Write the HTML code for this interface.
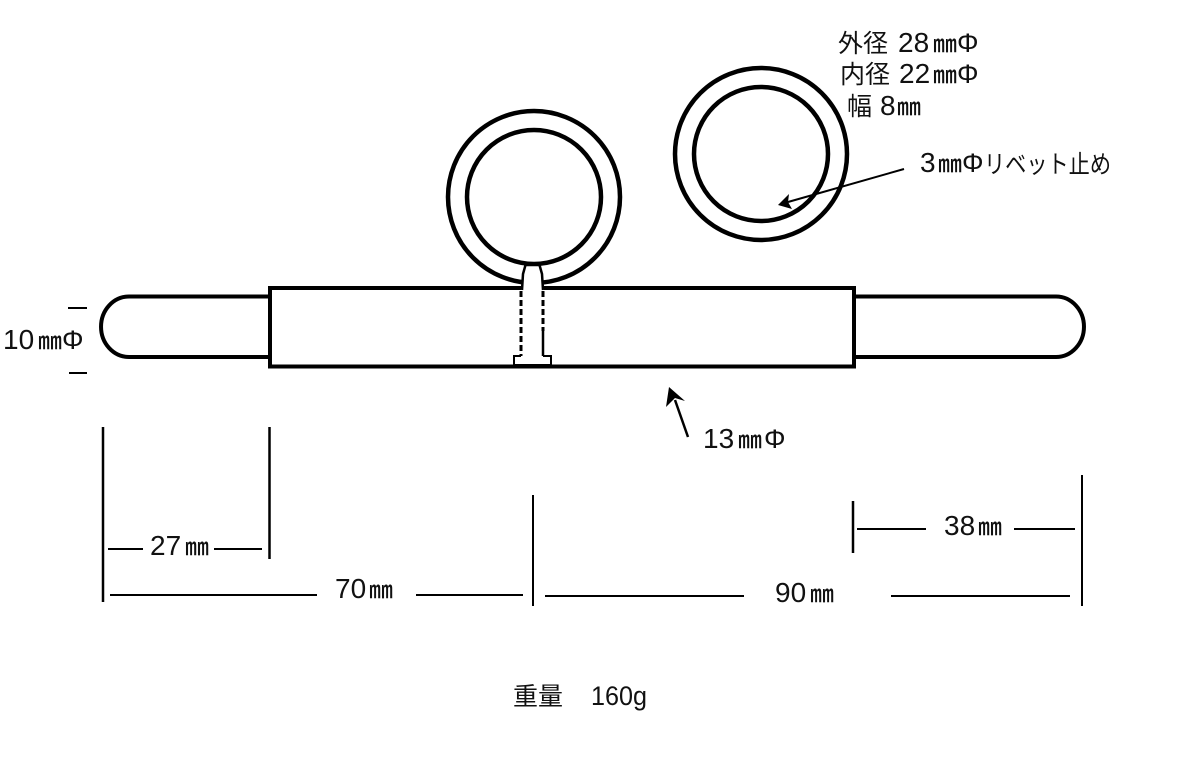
<!DOCTYPE html>
<html lang="ja">
<head>
<meta charset="utf-8">
<style>
html,body{margin:0;padding:0;background:#fff;width:1200px;height:767px;overflow:hidden}
svg{display:block}
text{font-family:"Liberation Sans","Noto Sans CJK JP",sans-serif;fill:#111;font-size:28px}
.c{font-family:"Noto Sans CJK JP",sans-serif;font-size:25px}
.m{font-family:"Noto Sans CJK JP",sans-serif;font-size:24px;font-weight:500}
.p{font-size:27px}
</style>
</head>
<body>
<svg width="1200" height="767" viewBox="0 0 1200 767" xmlns="http://www.w3.org/2000/svg">
<rect width="1200" height="767" fill="#fff"/>
<g fill="none" stroke="#000" stroke-width="4.500">
  <circle cx="534" cy="197" r="86"/>
  <circle cx="534" cy="197" r="67"/>
  <circle cx="761" cy="154" r="86"/>
  <circle cx="761" cy="154" r="67"/>
</g>
<g fill="none" stroke="#000" stroke-width="4">
  <path d="M270 296.500H129A28 30.250 0 0 0 129 357H270"/>
  <path d="M854 296.500H1056A28 30.250 0 0 1 1056 357H854"/>
  <rect x="270" y="288" width="584" height="78.500" fill="#fff"/>
</g>
<path d="M525 265H540L544 288V354H552V365H514V354H521V288Z" fill="#fff"/>
<g fill="none" stroke="#000" stroke-width="2.500">
  <path d="M522 290L523 274L525.500 265H539.500L542 274L543 290"/>
  <path d="M521 291V356" stroke-width="3" stroke-dasharray="6 3"/>
  <path d="M543 291V331" stroke-width="3" stroke-dasharray="6 3"/>
  <path d="M543 331V356"/>
  <path d="M521 356H514V365H551V356H543" stroke-width="2"/>
</g>
<g fill="none" stroke="#000" stroke-width="2">
  <path d="M68 308H87M69 373H87"/>
  <path d="M904 169L788 202"/>
  <path d="M688 437L675 400" stroke-width="2.500"/>
  <path d="M103 427V602M269.500 427V559" stroke-width="2.500"/>
  <path d="M108 549H143M214 549H262"/>
  <path d="M110 595H317M416 595H523"/>
  <path d="M533 495V606"/>
  <path d="M545 596H744M891 596H1070"/>
  <path d="M853 501V553" stroke-width="2.500"/>
  <path d="M1082 475V606"/>
  <path d="M857 529H926M1014 529H1075"/>
</g>
<path d="M778 205L789 194L788 202L792 209Z" fill="#000"/>
<path d="M669 387L685 401L675 398L666 407Z" fill="#000"/>

<text y="52"><tspan x="838" class="c">外径</tspan><tspan x="898">28</tspan><tspan x="933" class="m">㎜</tspan><tspan x="957" class="p">Φ</tspan></text>
<text y="83"><tspan x="840" class="c">内径</tspan><tspan x="899">22</tspan><tspan x="933" class="m">㎜</tspan><tspan x="957" class="p">Φ</tspan></text>
<text y="115"><tspan x="847" class="c">幅</tspan><tspan x="880">8</tspan><tspan x="897" class="m">㎜</tspan></text>
<text y="172"><tspan x="920">3</tspan><tspan x="938" class="m">㎜</tspan><tspan x="962" class="p">Φ</tspan></text>
<text x="984" y="173" textLength="127" lengthAdjust="spacingAndGlyphs" style="font-family:'Noto Sans CJK JP',sans-serif;font-size:25px">リベット止め</text>
<text y="349"><tspan x="3">10</tspan><tspan x="38" class="m">㎜</tspan><tspan x="62" class="p">Φ</tspan></text>
<text y="448"><tspan x="703">13</tspan><tspan x="738" class="m">㎜</tspan><tspan x="764" class="p">Φ</tspan></text>
<text y="555"><tspan x="150">27</tspan><tspan x="185" class="m">㎜</tspan></text>
<text y="598"><tspan x="335">70</tspan><tspan x="369" class="m">㎜</tspan></text>
<text y="602"><tspan x="775">90</tspan><tspan x="810" class="m">㎜</tspan></text>
<text y="535"><tspan x="944">38</tspan><tspan x="978" class="m">㎜</tspan></text>
<text y="705"><tspan x="513" class="c">重量</tspan></text>
<text x="591" y="705" textLength="56" lengthAdjust="spacingAndGlyphs" style="font-size:27px">160g</text>
</svg>
</body>
</html>
